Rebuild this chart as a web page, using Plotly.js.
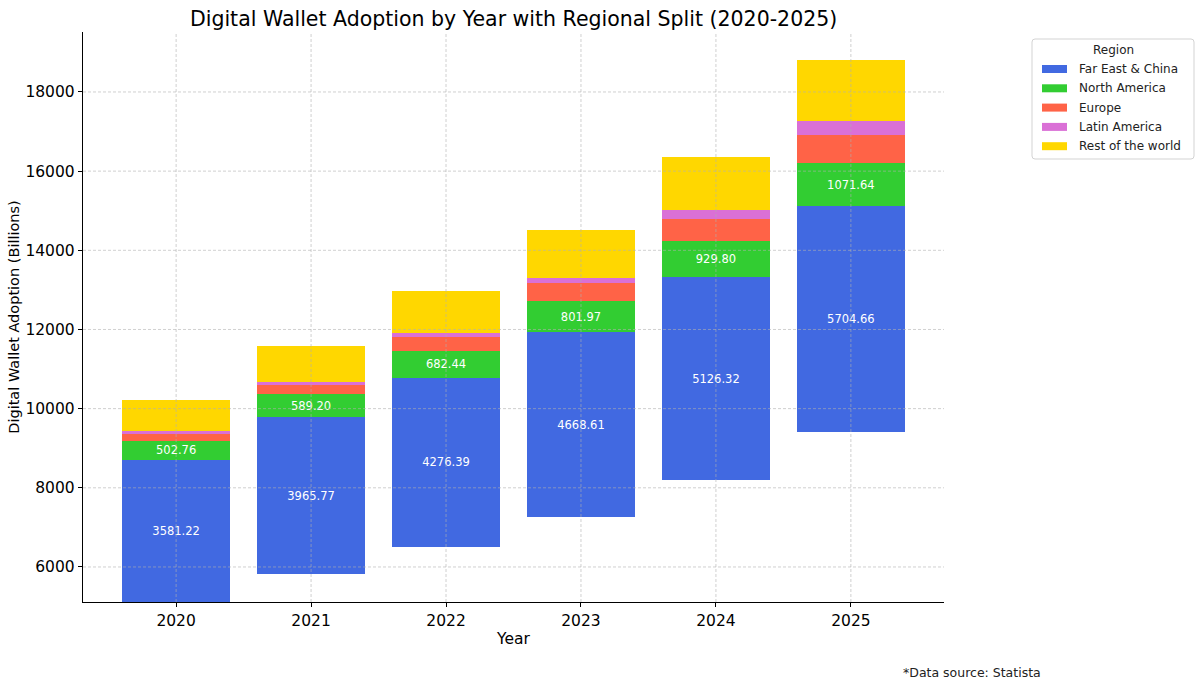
<!DOCTYPE html>
<html>
<head>
<meta charset="utf-8">
<script src="https://cdn.plot.ly/plotly-3.0.1.min.js"></script>
<style>html,body{margin:0;padding:0;background:#fff;}#chart{width:1200px;height:688px;}</style>
</head>
<body>
<div id="chart"></div>
<script>
const years = [2020, 2021, 2022, 2023, 2024, 2025];
const hiddenBase = [5110, 5812, 6503, 7258, 8190, 9417];
const farEastChina = [3581.22, 3965.77, 4276.39, 4668.61, 5126.32, 5704.66];
const northAmerica = [502.76, 589.20, 682.44, 801.97, 929.80, 1071.64];
const europe = [175, 236, 345, 437, 546, 708];
const latinAmerica = [68, 68, 101, 144, 227, 378];
const restOfWorld = [783, 917, 1076, 1195, 1347, 1530];
const yTicks = [6000, 8000, 10000, 12000, 14000, 16000, 18000];
const regionNames = ['Far East & China', 'North America', 'Europe', 'Latin America', 'Rest of the world'];
const regionColors = ['#4169E1', '#32CD32', '#FF6347', '#DA70D6', '#FFD700'];

const FONT = 'DejaVu Sans, sans-serif';
const labelFont = {family: FONT, size: 11.5, color: '#ffffff'};

// plot area in pixels (for layout helpers)
const PL = 83, PR = 944, PT = 32, PB = 602;
const px = v => (v - PL) / (PR - PL);
const py = v => (PB - v) / (PB - PT);

function seg(i, vals, labelled) {
  const t = {
    type: 'bar', name: regionNames[i], x: years, y: vals, width: 0.8,
    marker: {color: regionColors[i], line: {width: 0}},
    hoverinfo: 'x+y+name', showlegend: false
  };
  if (labelled) {
    t.text = vals.map(v => v.toFixed(2));
    t.textposition = 'inside';
    t.insidetextanchor = 'middle';
    t.textangle = 0;
    t.textfont = labelFont;
    t.constraintext = 'none';
  } else {
    t.textposition = 'none';
  }
  return t;
}

const traces = [
  {type: 'bar', x: years, y: hiddenBase, width: 0.8, marker: {color: 'rgba(0,0,0,0)'},
   showlegend: false, hoverinfo: 'skip', textposition: 'none'},
  seg(0, farEastChina, true),
  seg(1, northAmerica, true),
  seg(2, europe, false),
  seg(3, latinAmerica, false),
  seg(4, restOfWorld, false)
];

const gridStyle = {color: 'rgba(176,176,176,0.75)', width: 0.8, dash: '3px,2px'};
const shapes = [];
yTicks.forEach(v => shapes.push({type: 'line', xref: 'paper', yref: 'y', x0: 0, x1: 1, y0: v, y1: v, line: gridStyle, layer: 'above'}));
years.forEach(v => shapes.push({type: 'line', xref: 'x', yref: 'paper', x0: v, x1: v, y0: 0, y1: 1, line: gridStyle, layer: 'above'}));

// custom legend (matplotlib style)
const annotations = [];
const LX0 = 1032, LX1 = 1194, LY0 = 39, LY1 = 159, R = 3;
shapes.push({
  type: 'path', xref: 'paper', yref: 'paper', layer: 'above',
  path: `M ${px(LX0+R)} ${py(LY0)} L ${px(LX1-R)} ${py(LY0)} Q ${px(LX1)} ${py(LY0)} ${px(LX1)} ${py(LY0+R)} ` +
        `L ${px(LX1)} ${py(LY1-R)} Q ${px(LX1)} ${py(LY1)} ${px(LX1-R)} ${py(LY1)} ` +
        `L ${px(LX0+R)} ${py(LY1)} Q ${px(LX0)} ${py(LY1)} ${px(LX0)} ${py(LY1-R)} ` +
        `L ${px(LX0)} ${py(LY0+R)} Q ${px(LX0)} ${py(LY0)} ${px(LX0+R)} ${py(LY0)} Z`,
  line: {color: '#d3d3d3', width: 1}, fillcolor: 'rgba(255,255,255,0.8)'
});
annotations.push({text: 'Region', xref: 'paper', yref: 'paper', x: px((LX0+LX1)/2), y: py(50),
  xanchor: 'center', yanchor: 'middle', showarrow: false, font: {family: FONT, size: 12, color: '#222'}});
regionNames.forEach((n, i) => {
  const cy = 69 + i * 19.3;
  shapes.push({type: 'rect', xref: 'paper', yref: 'paper', layer: 'above',
    x0: px(1042), x1: px(1067), y0: py(cy - 4), y1: py(cy + 4),
    fillcolor: regionColors[i], line: {width: 0}});
  annotations.push({text: n, xref: 'paper', yref: 'paper', x: px(1077), y: py(cy),
    xanchor: 'left', yanchor: 'middle', showarrow: false, font: {family: FONT, size: 12, color: '#222'}});
});

annotations.push({
  text: '*Data source: Statista', xref: 'paper', yref: 'paper', x: px(1043), y: py(672),
  xanchor: 'right', yanchor: 'middle', showarrow: false,
  font: {family: FONT, size: 12.5, color: '#222'}
});

const layout = {
  width: 1200, height: 688,
  margin: {l: PL, r: 1200 - PR, t: PT, b: 688 - PB, autoexpand: false},
  paper_bgcolor: '#ffffff', plot_bgcolor: '#ffffff',
  barmode: 'stack', bargap: 0.2, showlegend: false,
  font: {family: FONT, color: '#000000'},
  title: {text: 'Digital Wallet Adoption by Year with Regional Split (2020-2025)',
          font: {family: FONT, size: 20.5, color: '#000'}, x: 0.428, xanchor: 'center', y: 0.973, yanchor: 'middle'},
  xaxis: {
    range: [2019.31, 2025.69], tickvals: years, ticktext: years.map(String),
    showgrid: false, zeroline: false, showline: true, linecolor: '#000', linewidth: 1.2,
    ticks: 'outside', ticklen: 4, tickcolor: '#000', tickfont: {family: FONT, size: 15.5, color: '#000'},
    title: {text: 'Year', font: {family: FONT, size: 15.5, color: '#000'}, standoff: 4},
    fixedrange: true
  },
  yaxis: {
    range: [5115, 19515], tickvals: yTicks, ticktext: yTicks.map(String),
    showgrid: false, zeroline: false, showline: true, linecolor: '#000', linewidth: 1.2,
    ticks: 'outside', ticklen: 4, tickcolor: '#000', tickfont: {family: FONT, size: 15.5, color: '#000'},
    title: {text: 'Digital Wallet Adoption (Billions)', font: {family: FONT, size: 14.5, color: '#000'}, standoff: 2},
    fixedrange: true
  },
  shapes: shapes,
  annotations: annotations
};

Plotly.newPlot('chart', traces, layout, {displayModeBar: false, staticPlot: true});
</script>
</body>
</html>
